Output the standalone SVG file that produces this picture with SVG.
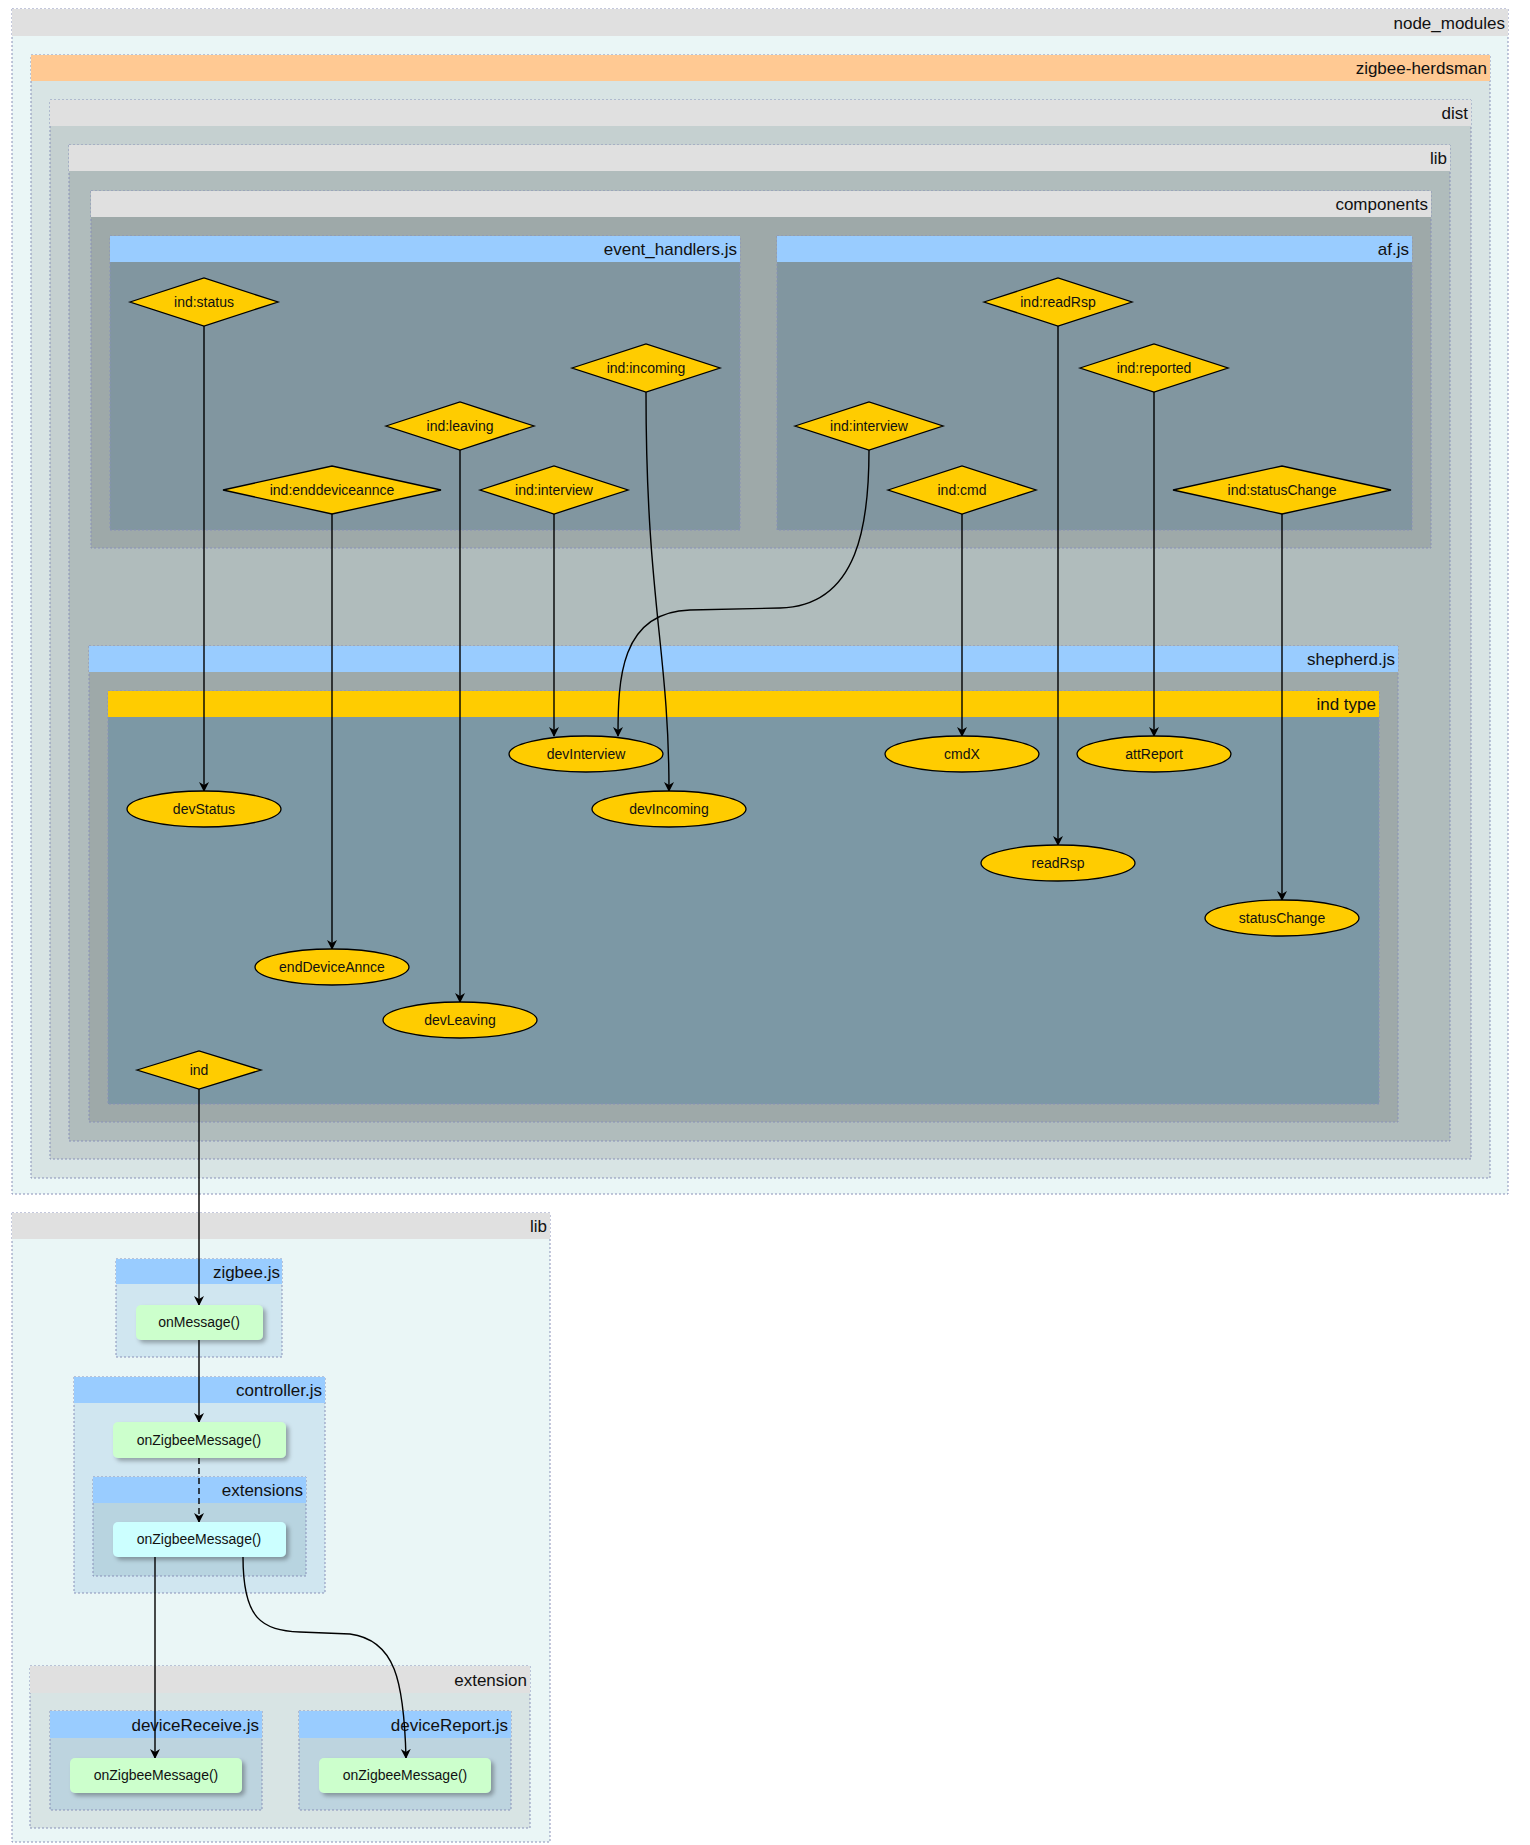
<svg xmlns="http://www.w3.org/2000/svg" width="1530" height="1845" viewBox="0 0 1530 1845">
<style>
.cl{stroke:#8890b8;stroke-width:1;stroke-dasharray:2,2}
.ct{font-family:"Liberation Sans",Arial,sans-serif;font-size:17px;fill:#111;text-anchor:end}
.nt{font-family:"Liberation Sans",Arial,sans-serif;font-size:14px;fill:#111;text-anchor:middle}
.d{fill:#ffcc00;stroke:#000;stroke-width:1.3}
.e{fill:none;stroke:#000;stroke-width:1.4}
.fn{stroke:none;filter:url(#sh)}
</style>
<defs>
<marker id="a" viewBox="0 0 10 10" refX="9" refY="5" markerWidth="10" markerHeight="10" markerUnits="userSpaceOnUse" orient="auto"><path d="M0,0L10,5L0,10L3,5z" fill="#000"/></marker>
<filter id="sh" x="-10%" y="-20%" width="130%" height="160%"><feDropShadow dx="3" dy="3" stdDeviation="2" flood-color="#000" flood-opacity="0.3"/></filter>
</defs>
<rect width="1530" height="1845" fill="#fff"/>
<g id="node_modules"><rect x="12" y="9" width="1496" height="1185" fill="#eaf6f6" class="cl"/><rect x="12" y="9" width="1496" height="27" fill="#e0e0e0"/><text class="ct" x="1505" y="29">node_modules</text></g>
<g id="zigbee-herdsman"><rect x="31" y="55" width="1459" height="1123" fill="#d8e4e4" class="cl"/><rect x="31" y="55" width="1459" height="26" fill="#ffc993"/><text class="ct" x="1487" y="74">zigbee-herdsman</text></g>
<g id="dist"><rect x="50" y="100" width="1421" height="1059" fill="#c5d0d0" class="cl"/><rect x="50" y="100" width="1421" height="26" fill="#e0e0e0"/><text class="ct" x="1468" y="119">dist</text></g>
<g id="lib_dist"><rect x="69" y="145" width="1381" height="996" fill="#b0bcbc" class="cl"/><rect x="69" y="145" width="1381" height="26" fill="#e0e0e0"/><text class="ct" x="1447" y="164">lib</text></g>
<g id="components"><rect x="91" y="191" width="1340" height="357" fill="#9ea9a9" class="cl"/><rect x="91" y="191" width="1340" height="26" fill="#e0e0e0"/><text class="ct" x="1428" y="210">components</text></g>
<g id="event_handlers"><rect x="110" y="236" width="630" height="294" fill="#8196a0" class="cl"/><rect x="110" y="236" width="630" height="26" fill="#99ccff"/><text class="ct" x="737" y="255">event_handlers.js</text></g>
<g id="afjs"><rect x="777" y="236" width="635" height="294" fill="#8196a0" class="cl"/><rect x="777" y="236" width="635" height="26" fill="#99ccff"/><text class="ct" x="1409" y="255">af.js</text></g>
<g id="shepherd"><rect x="89" y="646" width="1309" height="476" fill="#9ea9a9" class="cl"/><rect x="89" y="646" width="1309" height="26" fill="#99ccff"/><text class="ct" x="1395" y="665">shepherd.js</text></g>
<g id="indtype"><rect x="108" y="691" width="1271" height="413" fill="#7c98a5" class="cl"/><rect x="108" y="691" width="1271" height="26" fill="#ffcc00"/><text class="ct" x="1376" y="710">ind type</text></g>
<g id="lib2"><rect x="12" y="1213" width="538" height="629" fill="#eaf6f6" class="cl"/><rect x="12" y="1213" width="538" height="26" fill="#e0e0e0"/><text class="ct" x="547" y="1232">lib</text></g>
<g id="zigbeejs"><rect x="116" y="1259" width="166" height="98" fill="#d0e6f0" class="cl"/><rect x="116" y="1259" width="166" height="25" fill="#99ccff"/><text class="ct" x="280" y="1278">zigbee.js</text></g>
<g id="controllerjs"><rect x="74" y="1377" width="251" height="216" fill="#d0e6f0" class="cl"/><rect x="74" y="1377" width="251" height="26" fill="#99ccff"/><text class="ct" x="322" y="1396">controller.js</text></g>
<g id="extensions"><rect x="93" y="1477" width="213" height="99" fill="#b8d4e0" class="cl"/><rect x="93" y="1477" width="213" height="26" fill="#99ccff"/><text class="ct" x="303" y="1496">extensions</text></g>
<g id="extension"><rect x="30" y="1666" width="500" height="162" fill="#d8e4e4" class="cl"/><rect x="30" y="1666" width="500" height="27" fill="#e0e0e0"/><text class="ct" x="527" y="1686">extension</text></g>
<g id="deviceReceive"><rect x="50" y="1711" width="212" height="99" fill="#bdd4df" class="cl"/><rect x="50" y="1711" width="212" height="27" fill="#99ccff"/><text class="ct" x="259" y="1731">deviceReceive.js</text></g>
<g id="deviceReport"><rect x="299" y="1711" width="212" height="99" fill="#bdd4df" class="cl"/><rect x="299" y="1711" width="212" height="27" fill="#99ccff"/><text class="ct" x="508" y="1731">deviceReport.js</text></g>

<g id="connectors">
<path class="e" marker-end="url(#a)" d="M204,326V791"/>
<path class="e" marker-end="url(#a)" d="M332,514V949"/>
<path class="e" marker-end="url(#a)" d="M460,450V1002"/>
<path class="e" marker-end="url(#a)" d="M554,514V736"/>
<path class="e" marker-end="url(#a)" d="M646,392C646,600 669,650 669,791"/>
<path class="e" marker-end="url(#a)" d="M869,450C869,520 860,606 780,608L690,610C620,612 618,680 618,736"/>
<path class="e" marker-end="url(#a)" d="M962,514V736"/>
<path class="e" marker-end="url(#a)" d="M1058,326V845"/>
<path class="e" marker-end="url(#a)" d="M1154,392V736"/>
<path class="e" marker-end="url(#a)" d="M1282,514V900"/>
<path class="e" marker-end="url(#a)" d="M199,1089V1305"/>
<path class="e" marker-end="url(#a)" d="M199,1340V1422"/>
<path class="e" marker-end="url(#a)" stroke-dasharray="6,4" d="M199,1458V1522"/>
<path class="e" marker-end="url(#a)" d="M155,1557V1758"/>
<path class="e" marker-end="url(#a)" d="M243,1557C243,1620 262,1630 300,1632L350,1634C395,1640 404,1680 406,1758"/>
</g>

<g id="ind_status"><polygon class="d" points="130,302 204,278 278,302 204,326"/><text class="nt" x="204" y="307">ind:status</text></g>
<g id="ind_incoming"><polygon class="d" points="572,368 646,344 720,368 646,392"/><text class="nt" x="646" y="373">ind:incoming</text></g>
<g id="ind_leaving"><polygon class="d" points="386,426 460,402 534,426 460,450"/><text class="nt" x="460" y="431">ind:leaving</text></g>
<g id="ind_enddeviceannce"><polygon class="d" points="223,490 332,466 441,490 332,514"/><text class="nt" x="332" y="495">ind:enddeviceannce</text></g>
<g id="ind_interview_eh"><polygon class="d" points="480,490 554,466 628,490 554,514"/><text class="nt" x="554" y="495">ind:interview</text></g>
<g id="ind_readRsp"><polygon class="d" points="984,302 1058,278 1132,302 1058,326"/><text class="nt" x="1058" y="307">ind:readRsp</text></g>
<g id="ind_reported"><polygon class="d" points="1080,368 1154,344 1228,368 1154,392"/><text class="nt" x="1154" y="373">ind:reported</text></g>
<g id="ind_interview_af"><polygon class="d" points="795,426 869,402 943,426 869,450"/><text class="nt" x="869" y="431">ind:interview</text></g>
<g id="ind_cmd"><polygon class="d" points="888,490 962,466 1036,490 962,514"/><text class="nt" x="962" y="495">ind:cmd</text></g>
<g id="ind_statusChange"><polygon class="d" points="1173,490 1282,466 1391,490 1282,514"/><text class="nt" x="1282" y="495">ind:statusChange</text></g>
<g id="ind"><polygon class="d" points="137,1070 199,1051 261,1070 199,1089"/><text class="nt" x="199" y="1075">ind</text></g>

<g id="devInterview"><ellipse class="d" cx="586" cy="754" rx="77" ry="18"/><text class="nt" x="586" y="759">devInterview</text></g>
<g id="devIncoming"><ellipse class="d" cx="669" cy="809" rx="77" ry="18"/><text class="nt" x="669" y="814">devIncoming</text></g>
<g id="cmdX"><ellipse class="d" cx="962" cy="754" rx="77" ry="18"/><text class="nt" x="962" y="759">cmdX</text></g>
<g id="attReport"><ellipse class="d" cx="1154" cy="754" rx="77" ry="18"/><text class="nt" x="1154" y="759">attReport</text></g>
<g id="devStatus"><ellipse class="d" cx="204" cy="809" rx="77" ry="18"/><text class="nt" x="204" y="814">devStatus</text></g>
<g id="readRsp"><ellipse class="d" cx="1058" cy="863" rx="77" ry="18"/><text class="nt" x="1058" y="868">readRsp</text></g>
<g id="statusChange"><ellipse class="d" cx="1282" cy="918" rx="77" ry="18"/><text class="nt" x="1282" y="923">statusChange</text></g>
<g id="endDeviceAnnce"><ellipse class="d" cx="332" cy="967" rx="77" ry="18"/><text class="nt" x="332" y="972">endDeviceAnnce</text></g>
<g id="devLeaving"><ellipse class="d" cx="460" cy="1020" rx="77" ry="18"/><text class="nt" x="460" y="1025">devLeaving</text></g>

<g id="onMessage"><rect class="fn" x="136" y="1305" width="127" height="35" rx="5" fill="#ccffcc"/><text class="nt" x="199" y="1327">onMessage()</text></g>
<g id="ctrl_onZigbeeMessage"><rect class="fn" x="113" y="1422" width="173" height="36" rx="5" fill="#ccffcc"/><text class="nt" x="199" y="1445">onZigbeeMessage()</text></g>
<g id="ext_onZigbeeMessage"><rect class="fn" x="113" y="1522" width="173" height="35" rx="5" fill="#ccffff"/><text class="nt" x="199" y="1544">onZigbeeMessage()</text></g>
<g id="recv_onZigbeeMessage"><rect class="fn" x="70" y="1758" width="172" height="35" rx="5" fill="#ccffcc"/><text class="nt" x="156" y="1780">onZigbeeMessage()</text></g>
<g id="rep_onZigbeeMessage"><rect class="fn" x="319" y="1758" width="172" height="35" rx="5" fill="#ccffcc"/><text class="nt" x="405" y="1780">onZigbeeMessage()</text></g>
</svg>
